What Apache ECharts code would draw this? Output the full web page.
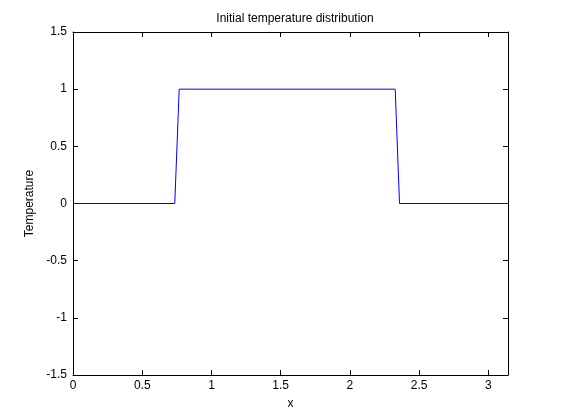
<!DOCTYPE html>
<html>
<head>
<meta charset="utf-8">
<script src="https://cdn.jsdelivr.net/npm/echarts@6/dist/echarts.min.js"></script>
<style>
html,body{margin:0;padding:0;background:#fff;}
#c{width:561px;height:420px;}
</style>
</head>
<body>
<div id="c"></div>
<script>
var xValues = [0, 0.735, 0.767, 2.327, 2.358, Math.PI];
var temperature = [0, 0, 1, 1, 0, 0];
var xTicks = [0, 0.5, 1, 1.5, 2, 2.5, 3];
var yTicks = [-1.5, -1, -0.5, 0, 0.5, 1, 1.5];

var font = "'Liberation Sans', Arial, Helvetica, sans-serif";
var data = xValues.map(function (x, i) { return [x, temperature[i]]; });

var chart = echarts.init(document.getElementById('c'), null, {renderer: 'canvas'});
var axisCommon = {
  axisLine: {show: true, onZero: false, lineStyle: {color: '#000', width: 1}},
  axisTick: {show: true, inside: true, length: 5, lineStyle: {color: '#000', width: 1}},
  splitLine: {show: false}
};
chart.setOption({
  animation: false,
  backgroundColor: '#fff',
  title: {
    text: 'Initial temperature distribution',
    left: 290, top: 8, textAlign: 'center',
    textStyle: {fontFamily: font, fontSize: 12, fontWeight: 'normal', color: '#000'}
  },
  grid: {left: 73, right: 53, top: 32, bottom: 45},
  xAxis: [
    Object.assign({
      type: 'value', position: 'bottom', min: 0, max: Math.PI, interval: 0.5,
      name: 'x', nameLocation: 'middle', nameGap: 23,
      nameTextStyle: {fontFamily: font, fontSize: 12, color: '#000'},
      axisLabel: {show: true, margin: 5, showMaxLabel: false, fontFamily: font, fontSize: 12, color: '#000',
        formatter: function (v) { return xTicks.indexOf(Math.round(v * 100) / 100) >= 0 ? String(Math.round(v*10)/10) : ''; }}
    }, axisCommon),
    Object.assign({
      type: 'value', position: 'top', min: 0, max: Math.PI, interval: 0.5,
      axisLabel: {show: false}
    }, axisCommon)
  ],
  yAxis: [
    Object.assign({
      type: 'value', position: 'left', min: -1.5, max: 1.5, interval: 0.5,
      name: 'Temperature', nameLocation: 'middle', nameGap: 33, nameRotate: 90,
      nameTextStyle: {fontFamily: font, fontSize: 12, color: '#000'},
      axisLabel: {show: true, margin: 6, fontFamily: font, fontSize: 12, color: '#000',
        formatter: function (v) { return String(Math.round(v * 10) / 10); }}
    }, axisCommon),
    Object.assign({
      type: 'value', position: 'right', min: -1.5, max: 1.5, interval: 0.5,
      axisLabel: {show: false}
    }, axisCommon)
  ],
  series: [{
    type: 'line',
    data: data,
    xAxisIndex: 0, yAxisIndex: 0,
    showSymbol: false,
    lineStyle: {color: '#0000ff', width: 1},
    itemStyle: {color: '#0000ff'}
  }]
});
</script>
</body>
</html>
